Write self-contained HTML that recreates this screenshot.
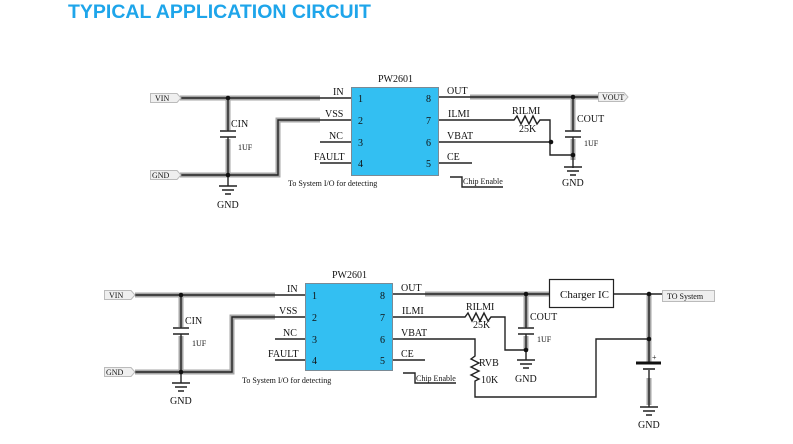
<!DOCTYPE html>
<html><head><meta charset="utf-8"><style>
html,body{margin:0;padding:0;background:#fff;width:793px;height:444px;overflow:hidden}
svg{display:block}
text{font-family:"Liberation Serif",serif;fill:#111}
.s{font-size:10px}
.xs{font-size:8px}
.t{font-size:8px}
</style></head><body>
<svg width="793" height="444" viewBox="0 0 793 444" xmlns="http://www.w3.org/2000/svg">
<text x="68" y="18" style="font-family:'Liberation Sans',sans-serif;font-weight:bold;font-size:19.5px;fill:#1ea5ea">TYPICAL APPLICATION CIRCUIT</text>

<g fill="none" stroke-linecap="butt">
<g stroke="#a6a6a6" stroke-width="5">
<path d="M180 98H320"/>
<path d="M180 175H278V120H320"/>
<path d="M228 98V130M228 139V175"/>
<path d="M470 97H598"/>
<path d="M573 97V130M573 139V160"/>
</g>
<g stroke="#222" stroke-width="1.4">
<path d="M180 98H351"/>
<path d="M180 175H278V120H351"/>
<path d="M228 98V131M228 137V186"/>
<path d="M320 142H351M320 163H351"/>
<path d="M438 97H598"/>
<path d="M438 120H514l3 -4 4 8 4 -8 4 8 4 -8 4 8 3 -4H550V155H573"/>
<path d="M438 142H551"/>
<path d="M438 163H472"/>
<path d="M573 97V131M573 137V168"/>
<path d="M450 177H462V187H503"/>
</g>
<g stroke="#222" stroke-width="1.6">
<path d="M220 131H236M220 137H236"/>
<path d="M565 131H581M565 137H581"/>
<path d="M219 186H237M222 190H234M225 194H231"/>
<path d="M564 167H582M567 171H579M570 175H576"/>
</g>
<g stroke="#a6a6a6" stroke-width="5">
<path d="M135 295H275"/>
<path d="M135 372H232V317H275"/>
<path d="M181 295V327M181 336V372"/>
<path d="M425 294H550"/>
<path d="M526 294V327M526 336V350"/>
<path d="M649 294V362M649 378V405"/>
</g>
<g stroke="#222" stroke-width="1.4">
<path d="M135 295H305"/>
<path d="M135 372H232V317H305"/>
<path d="M181 295V328M181 334V383"/>
<path d="M275 339H305M275 360H305"/>
<path d="M392 294H550"/>
<path d="M613 294H662"/>
<path d="M392 317H465l3 -4 4 8 4 -8 4 8 4 -8 4 8 3 -4H505V350H526"/>
<path d="M392 339H475V356l-4 3 8 4 -8 4 8 4 -8 4 8 4 -4 2V397H596V339H649"/>
<path d="M392 360H425"/>
<path d="M526 294V328M526 334V360"/>
<path d="M649 294V362M649 370V407"/>
<path d="M403 373H415V383H456"/>
</g>
<g stroke="#222" stroke-width="1.6">
<path d="M173 328H189M173 334H189"/>
<path d="M518 328H534M518 334H534"/>
<path d="M172 383H190M175 387H187M178 391H184"/>
<path d="M517 360H535M520 364H532M523 368H529"/>
<path d="M640 407H658M643 411H655M646 415H652"/>
<path d="M643 369H655"/>
</g>
<path d="M636 363H661" stroke="#111" stroke-width="3"/>
</g>
<g fill="#111">
<circle cx="228" cy="98" r="2.3"/><circle cx="228" cy="175" r="2.3"/>
<circle cx="573" cy="97" r="2.3"/><circle cx="551" cy="142" r="2.3"/><circle cx="573" cy="155" r="2.3"/>
<circle cx="181" cy="295" r="2.3"/><circle cx="181" cy="372" r="2.3"/>
<circle cx="526" cy="294" r="2.3"/><circle cx="526" cy="350" r="2.3"/>
<circle cx="649" cy="294" r="2.3"/><circle cx="649" cy="339" r="2.3"/>
</g>
<rect x="351.5" y="87.5" width="87" height="88" fill="#33bff2" stroke="#7a8a95" stroke-width="1"/>
<rect x="305.5" y="283.5" width="87" height="87" fill="#33bff2" stroke="#7a8a95" stroke-width="1"/>
<rect x="549.5" y="279.5" width="64" height="28" fill="#fff" stroke="#222" stroke-width="1.2"/>
<g fill="#efefef" stroke="#bbb" stroke-width="1">
<path d="M150.5 93.5H177l4 4.5 -4 4.5H150.5Z"/>
<path d="M150.5 170.5H177l4 4.5 -4 4.5H150.5Z"/>
<path d="M598.5 92.5H624l4 4.5 -4 4.5H598.5Z"/>
<path d="M104.5 290.5H131l4 4.5 -4 4.5H104.5Z"/>
<path d="M104.5 367.5H131l4 4.5 -4 4.5H104.5Z"/>
<rect x="662.5" y="290.5" width="52" height="11"/>
</g>
<g class="xs">
<text x="155" y="101">VIN</text><text x="152" y="178">GND</text><text x="602" y="100">VOUT</text>
<text x="109" y="298">VIN</text><text x="106" y="375">GND</text><text x="667" y="299">TO System</text>
</g>
<g class="s">
<text x="378" y="82">PW2601</text>
<text x="333" y="95">IN</text><text x="325" y="117">VSS</text><text x="329" y="139">NC</text><text x="314" y="160">FAULT</text>
<text x="358" y="102">1</text><text x="358" y="124">2</text><text x="358" y="146">3</text><text x="358" y="167">4</text>
<text x="426" y="102">8</text><text x="426" y="124">7</text><text x="426" y="146">6</text><text x="426" y="167">5</text>
<text x="447" y="94">OUT</text><text x="448" y="117">ILMI</text><text x="447" y="139">VBAT</text><text x="447" y="160">CE</text>
<text x="231" y="127">CIN</text><text x="217" y="208">GND</text>
<text x="512" y="114">RILMI</text><text x="519" y="132">25K</text>
<text x="577" y="122">COUT</text><text x="562" y="186">GND</text>
</g>
<text x="238" y="150" class="xs">1UF</text>
<text x="584" y="146" class="xs">1UF</text>
<text x="288" y="186" class="t">To System I/O for detecting</text>
<text x="463" y="184" class="t">Chip Enable</text>
<g class="s">
<text x="332" y="278">PW2601</text>
<text x="287" y="292">IN</text><text x="279" y="314">VSS</text><text x="283" y="336">NC</text><text x="268" y="357">FAULT</text>
<text x="312" y="299">1</text><text x="312" y="321">2</text><text x="312" y="343">3</text><text x="312" y="364">4</text>
<text x="380" y="299">8</text><text x="380" y="321">7</text><text x="380" y="343">6</text><text x="380" y="364">5</text>
<text x="401" y="291">OUT</text><text x="402" y="314">ILMI</text><text x="401" y="336">VBAT</text><text x="401" y="357">CE</text>
<text x="185" y="324">CIN</text><text x="170" y="404">GND</text>
<text x="466" y="310">RILMI</text><text x="473" y="328">25K</text>
<text x="530" y="320">COUT</text><text x="515" y="382">GND</text>
<text x="479" y="366">RVB</text><text x="481" y="383">10K</text>
<text x="638" y="428">GND</text>
<text x="560" y="298" style="font-size:11px">Charger IC</text>
</g>
<text x="192" y="346" class="xs">1UF</text>
<text x="537" y="342" class="xs">1UF</text>
<text x="652" y="360" class="xs">+</text>
<text x="242" y="383" class="t">To System I/O for detecting</text>
<text x="416" y="381" class="t">Chip Enable</text>
</svg>
</body></html>
